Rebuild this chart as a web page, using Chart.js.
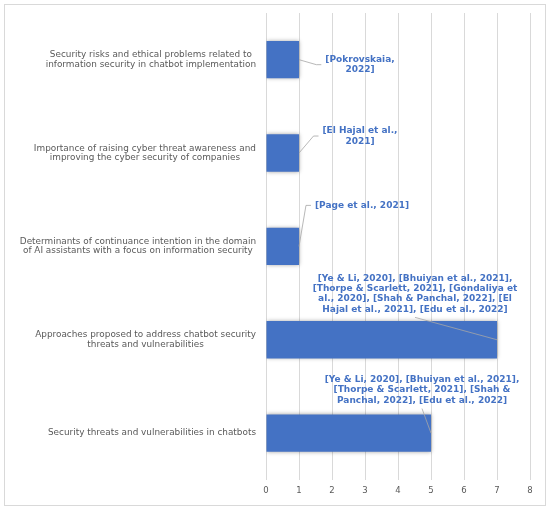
<!DOCTYPE html>
<html>
<head>
<meta charset="utf-8">
<script src="https://cdn.jsdelivr.net/npm/chart.js@4.4.1/dist/chart.umd.min.js"></script>
<style>
    body { margin: 0; background: #fff; }
    #wrap { position: relative; width: 550px; height: 509px; }
</style>
</head>
<body>
<div id="wrap"><canvas id="topicChart"></canvas></div>
<script>
// ================= DATA =================
const topics = [
    ["Security risks and ethical problems related to", "information security in chatbot implementation"],
    ["Importance of raising cyber threat awareness and", "improving the cyber security of companies"],
    ["Determinants of continuance intention in the domain", "of AI assistants with a focus on information security"],
    ["Approaches proposed to address chatbot security", "threats and vulnerabilities"],
    ["Security threats and vulnerabilities in chatbots"]
];

const studyCounts = [1, 1, 1, 7, 5];

const studyRefs = [
    ["[Pokrovskaia,", "2022]"],
    ["[El Hajal et al.,", "2021]"],
    ["[Page et al., 2021]"],
    ["[Ye & Li, 2020], [Bhuiyan et al., 2021],", "[Thorpe & Scarlett, 2021], [Gondaliya et", "al., 2020], [Shah & Panchal, 2022], [El", "Hajal et al., 2021], [Edu et al., 2022]"],
    ["[Ye & Li, 2020], [Bhuiyan et al., 2021],", "[Thorpe & Scarlett, 2021], [Shah &", "Panchal, 2022], [Edu et al., 2022]"]
];

const xMin = 0;
const xMax = 8;
const xStep = 1;

// where each reference label sits, relative to the end of its bar (px)
const refOffsets = [
    { dx: 61, dy: 5 },
    { dx: 61, dy: -17 },
    { dx: 63, dy: -41 },
    { dx: -82, dy: -46 },
    { dx: -9, dy: -43 }
];

const FONT = "'DejaVu Sans', Verdana, sans-serif";

// ================= PLUGIN: frame, shadows, labels =================
const labelPlugin = {
    id: "labelPlugin",

    beforeDraw(chart) {
        const ctx = chart.ctx;
        ctx.save();
        ctx.strokeStyle = "#d9d9d9";
        ctx.lineWidth = 1;
        ctx.strokeRect(4.5, 4.5, 541, 501);
        ctx.restore();
    },

    beforeDatasetsDraw(chart) {
        const ctx = chart.ctx;
        ctx.save();
        ctx.shadowColor = "rgba(0,0,0,0.35)";
        ctx.shadowBlur = 4;
        ctx.shadowOffsetX = 0;
        ctx.shadowOffsetY = 0;
    },

    afterDatasetsDraw(chart) {
        const ctx = chart.ctx;
        ctx.restore();

        const yScale = chart.scales.y;
        const left = chart.chartArea.left;

        // category labels, each block centred on its widest line
        ctx.save();
        ctx.font = "8.9px " + FONT;
        ctx.fillStyle = "#595959";
        ctx.textAlign = "center";
        ctx.textBaseline = "middle";
        topics.forEach((lines, i) => {
            const y = yScale.getPixelForValue(i);
            const widest = Math.max(...lines.map(l => ctx.measureText(l).width));
            const cx = left - 10 - widest / 2;
            const lh = 9.2;
            lines.forEach((l, k) => {
                ctx.fillText(l, cx, y - (lines.length - 1) * lh / 2 + k * lh);
            });
        });
        ctx.restore();

        // reference labels with leader lines
        const bars = chart.getDatasetMeta(0).data;
        ctx.save();
        ctx.font = "bold 9px " + FONT;
        ctx.textAlign = "center";
        ctx.textBaseline = "middle";
        studyRefs.forEach((lines, i) => {
            const bar = bars[i];
            const off = refOffsets[i];
            const cx = bar.x + off.dx;
            const cy = bar.y + off.dy;
            const lh = 10.3;
            const widest = Math.max(...lines.map(l => ctx.measureText(l).width));
            const boxLeft = cx - widest / 2;
            const boxBottom = cy + lines.length * lh / 2;

            ctx.strokeStyle = "#a6a6a6";
            ctx.lineWidth = 0.8;
            ctx.beginPath();
            ctx.moveTo(bar.x, bar.y);
            if (boxLeft > bar.x + 10) {
                ctx.lineTo(boxLeft - 9, cy);
                ctx.lineTo(boxLeft - 4, cy);
            } else {
                ctx.lineTo(cx, boxBottom + 3);
            }
            ctx.stroke();

            ctx.fillStyle = "#4472c4";
            lines.forEach((l, k) => {
                ctx.fillText(l, cx, cy - (lines.length - 1) * lh / 2 + k * lh);
            });
        });
        ctx.restore();
    }
};

// ================= CHART =================
const topicChart = new Chart(document.getElementById("topicChart"), {
    type: "bar",

    data: {
        labels: topics,

        datasets: [{
            data: studyCounts,
            backgroundColor: "#4472c4",
            borderWidth: 0,
            categoryPercentage: 1,
            barPercentage: 0.4
        }]
    },

    options: {
        indexAxis: "y",
        responsive: true,
        maintainAspectRatio: false,
        animation: false,

        layout: {
            padding: { left: 266, right: 20, top: 13, bottom: 7 }
        },

        plugins: {
            legend: { display: false },
            tooltip: { enabled: false }
        },

        scales: {
            x: {
                min: xMin,
                max: xMax,
                ticks: {
                    stepSize: xStep,
                    color: "#595959",
                    padding: 6,
                    font: { family: FONT, size: 8.5 }
                },
                grid: {
                    color: "#d9d9d9",
                    lineWidth: 1,
                    drawTicks: false
                },
                border: { display: false }
            },

            y: {
                display: false
            }
        }
    },

    plugins: [labelPlugin]
});
</script>
</body>
</html>
